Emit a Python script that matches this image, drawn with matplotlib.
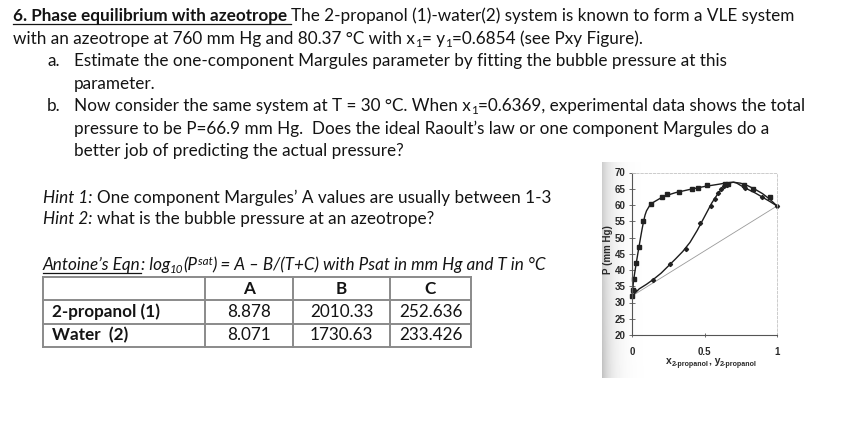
import numpy as np
import matplotlib.pyplot as plt
from matplotlib.lines import Line2D

W, H = 858, 433
BODY = ['Lato', 'DejaVu Sans']
CHART = ['Liberation Sans', 'DejaVu Sans']
INK = '#141414'

# Pxy figure, values
x_bub = [0.011, 0.143, 0.265, 0.369, 0.471, 0.543, 0.572, 0.593, 0.611, 0.633, 0.652, 0.78, 0.898, 1.0]
P_bub = [33.7, 36.8, 41.9, 46.6, 54.5, 59.8, 62.0, 63.6, 64.8, 65.9, 66.3, 65.2, 62.4, 59.7]
y_dew = [0.0, 0.007, 0.011, 0.029, 0.048, 0.079, 0.131, 0.21, 0.242, 0.324, 0.412, 0.457, 0.516, 0.64, 0.66, 0.77, 0.833, 0.95]
P_dew = [32.0, 33.8, 37.1, 42.2, 47.1, 55.0, 60.2, 62.6, 63.3, 64.1, 64.8, 65.3, 66.2, 66.4, 66.6, 66.1, 64.9, 62.4]

# smooth fitted curves drawn through the points
curve_x = [0, 0.05, 0.1, 0.15, 0.2, 0.25, 0.3, 0.35, 0.4, 0.45, 0.5, 0.55, 0.6, 0.65, 0.68, 0.7, 0.72, 0.75,
           0.8, 0.85, 0.9, 0.95, 1.0]
curve_Px = [32.0, 34.2, 35.6, 37.2, 39.0, 41.2, 43.4, 45.7, 48.5, 52.2, 56.4, 60.6, 64.0, 66.2, 66.9, 67.0, 66.8,
            66.0, 64.8, 63.7, 62.4, 61.1, 59.7]
curve_y = [0, 0.005, 0.01, 0.02, 0.03, 0.04, 0.05, 0.06, 0.07, 0.08, 0.09, 0.1, 0.12, 0.15, 0.2, 0.25, 0.3, 0.4,
           0.5, 0.6, 0.65, 0.7, 0.75, 0.8, 0.85, 0.9, 0.95, 1.0]
curve_Py = [32.0, 34.0, 36.5, 39.5, 42.3, 45.0, 47.6, 50.2, 52.7, 55.0, 56.9, 58.2, 59.7, 60.9, 62.2, 63.1, 63.8,
            64.8, 65.7, 66.4, 66.8, 67.0, 66.7, 65.9, 64.8, 63.5, 61.8, 59.7]
raoult_x = [0.0, 1.0]
raoult_P = [32.0, 59.7]

# Antoine table
antoine_cols = ['A', 'B', 'C']
antoine_rows = ['2-propanol (1)', 'Water  (2)']
antoine_vals = [['8.878', '2010.33', '252.636'],
                ['8.071', '1730.63', '233.426']]

fig = plt.figure(figsize=(W / 100, H / 100), dpi=100)
rend = fig.canvas.get_renderer()


# style flags are space separated words: bold, ital, under, sub, sup, chart
def style_kw(st, size):
    f = st.split()
    small = 'sub' in f or 'sup' in f
    return dict(family=CHART if 'chart' in f else BODY,
                size=size * (0.68 if small else 1.0),
                weight='bold' if 'bold' in f else 'normal',
                style='italic' if 'ital' in f else 'normal')


def measure(s, kw):
    t = fig.text(0, 0, s, **kw)
    w = t.get_window_extent(rend).width
    t.remove()
    return w


def run_width(s, kw):
    return measure('I' + s + 'I', kw) - measure('II', kw)


def line_width(parts, size):
    return sum(run_width(s, style_kw(st, size)) for s, st in parts)


def draw_runs(x, y, parts, size, color=INK, sub_dy=3, sup_dy=-5):
    for s, st in parts:
        f = st.split()
        kw = style_kw(st, size)
        w = run_width(s, kw)
        lead = len(s) - len(s.lstrip(' '))
        sp = run_width(' ', kw)
        dy = sub_dy if 'sub' in f else (sup_dy if 'sup' in f else 0)
        if s.strip():
            fig.text((x + lead * sp) / W, 1 - (y + dy) / H, s.strip(), va='baseline', ha='left',
                     color=color, **kw)
        if 'under' in f:
            fig.add_artist(Line2D([x / W, (x + w) / W], [1 - (y + 2.5) / H] * 2, color=color, lw=0.9))
        x += w
    return x


line1 = [('6. Phase equilibrium with azeotrope ', 'bold under'),
         ('The 2-propanol (1)-water(2) system is known to form a VLE system', '')]
body = 11 * (792 - 13) / line_width(line1, 11)

draw_runs(13, 21, line1, body)
draw_runs(13, 44, [('with an azeotrope at 760 mm Hg and 80.37 °C with x', ''), ('1', 'sub'),
                   ('= y', ''), ('1', 'sub'), ('=0.6854 (see Pxy Figure).', '')], body)
draw_runs(47, 66, [('a.', '')], body)
draw_runs(74, 66, [('Estimate the one-component Margules parameter by fitting the bubble pressure at this', '')], body)
draw_runs(74, 89, [('parameter.', '')], body)
draw_runs(47, 111, [('b.', '')], body)
draw_runs(74, 111, [('Now consider the same system at T = 30 °C. When x', ''), ('1', 'sub'),
                    ('=0.6369, experimental data shows the total', '')], body)
draw_runs(74, 134, [('pressure to be P=66.9 mm Hg.  Does the ideal Raoult’s law or one component Margules do a', '')], body)
draw_runs(74, 156, [('better job of predicting the actual pressure?', '')], body)

draw_runs(43, 203, [('Hint 1:', 'ital'), (' One component Margules’ A values are usually between 1-3', '')], body)
draw_runs(43, 224, [('Hint 2:', 'ital'), (' what is the bubble pressure at an azeotrope?', '')], body)

draw_runs(43, 270, [('Antoine’s Eqn', 'ital under'), (': log', 'ital'), ('10', 'ital sub'), ('(P', 'ital'),
                    ('sat', 'ital sup'), (') = A – B/(T+C) with Psat in mm Hg and T in °C', 'ital')], body)

# table grid
col_x = [43, 205, 293, 390, 471]
row_y = [277, 300, 323.5, 347]
for cx in col_x:
    fig.add_artist(Line2D([cx / W] * 2, [1 - row_y[0] / H, 1 - row_y[-1] / H], color='#8a8a8a', lw=1.4))
for ry in row_y:
    fig.add_artist(Line2D([col_x[0] / W, col_x[-1] / W], [1 - ry / H] * 2, color='#8a8a8a', lw=1.4))


def cell_text(ci, ri, s, bold=False, left=False):
    yc = (row_y[ri] + row_y[ri + 1]) / 2 + 5
    kw = style_kw('bold' if bold else '', body)
    if left:
        fig.text((col_x[0] + 9) / W, 1 - yc / H, s, ha='left', va='baseline', color=INK, **kw)
    else:
        xc = (col_x[ci] + col_x[ci + 1]) / 2
        fig.text(xc / W, 1 - yc / H, s, ha='center', va='baseline', color=INK, **kw)


for j, c in enumerate(antoine_cols):
    cell_text(j + 1, 0, c, bold=True)
for i, r in enumerate(antoine_rows):
    cell_text(0, i + 1, r, bold=True, left=True)
    for j, v in enumerate(antoine_vals[i]):
        cell_text(j + 1, i + 1, v)

# scanned picture background with a grey smudge on its left edge
bg = fig.add_axes([602 / W, 1 - 378 / H, (787 - 602) / W, (378 - 162) / H])
cols = np.arange(185)
rows = np.arange(216)
shade = 0.76 + 0.24 * (1 - np.exp(-cols / 10.0))
img = np.tile(shade, (216, 1))
img = img + (1 - img) * np.clip((216 - rows[:, None]) / 216 * 1.6, 0, 1) * 0.2
img = np.clip(img, 0, 1)
bg.imshow(img, cmap='gray', vmin=0, vmax=1, aspect='auto', interpolation='bilinear')
bg.axis('off')

ax = fig.add_axes([632 / W, 1 - 335 / H, (777 - 632) / W, (335 - 172.5) / H])
ax.patch.set_alpha(0)
ax.set_xlim(0, 1)
ax.set_ylim(20, 70)
ax.plot(raoult_x, raoult_P, color='#9a9a9a', lw=0.6, clip_on=False)
ax.plot(curve_x, curve_Px, color='#1c1c1c', lw=1.0, clip_on=False)
ax.plot(curve_y, curve_Py, color='#1c1c1c', lw=1.0, clip_on=False)
ax.plot(x_bub, P_bub, 'D', color='#222222', ms=2.1, clip_on=False)
ax.plot(y_dew, P_dew, 's', color='#222222', ms=2.2, clip_on=False)

for side in ['left', 'bottom']:
    ax.spines[side].set_color('#555555')
    ax.spines[side].set_linewidth(0.8)
for side in ['top', 'right']:
    ax.spines[side].set_color('#c4c4c4')
    ax.spines[side].set_linewidth(0.6)
    ax.spines[side].set_linestyle((0, (3, 2)))
ax.set_yticks(np.arange(20, 71, 5))
ax.set_xticks([0, 0.5, 1])
ax.set_xticklabels(['0', '0.5', '1'])
ax.tick_params(axis='y', direction='inout', length=4, width=0.6, color='#555555', pad=2.5,
               labelsize=7, labelcolor='#2a2a2a')
ax.tick_params(axis='x', direction='inout', length=3, width=0.6, color='#555555', pad=7,
               labelsize=7, labelcolor='#2a2a2a')
for lab in ax.get_xticklabels() + ax.get_yticklabels():
    lab.set_family(CHART)
    lab.set_weight('bold')

fig.text(608 / W, 1 - 250 / H, 'P (mm Hg)', rotation=90, ha='center', va='center', family=CHART,
         weight='bold', size=7, color='#2a2a2a')
draw_runs(666, 364, [('x', 'chart bold'), ('2-propanol', 'chart bold sub'), (', y', 'chart bold'),
                     ('2-propanol', 'chart bold sub')], 7.5, color='#2a2a2a', sub_dy=2)

fig.savefig('out.png', dpi=100)
